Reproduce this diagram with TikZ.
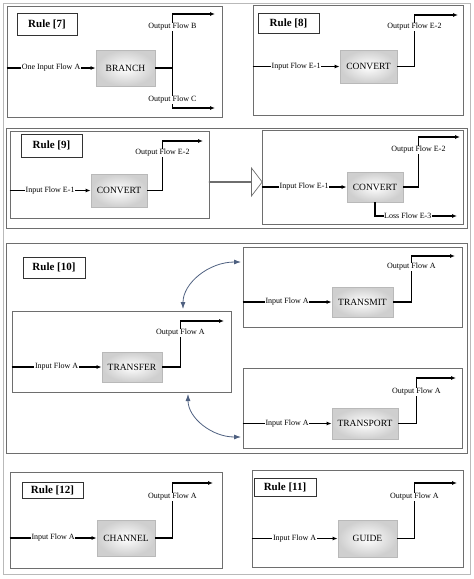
\documentclass[tikz,border=0pt]{standalone}
\usepackage{fontspec}
\setmainfont{Liberation Serif}
\usetikzlibrary{arrows.meta,fit,shapes.arrows}
\definecolor{slate}{RGB}{78,96,128}
\definecolor{frameGray}{RGB}{110,110,110}

\begin{document}
\begin{tikzpicture}[>={Latex[length=5pt,width=4pt]},x=1pt,y=-1pt,line width=.8pt]
\tikzstyle{frame}=[draw=frameGray,inner sep=0pt,line width=.9pt]
\tikzstyle{tag}=[draw=black!80,inner sep=0pt,line width=.9pt,font=\fontsize{11}{12}\selectfont\bfseries]
\tikzstyle{proc}=[draw=gray!55,inner color=white,outer color=gray!38,inner sep=0pt,font=\fontsize{9.5}{10}\selectfont]
\tikzstyle{flow}=[fill=white,inner sep=.6pt,font=\fontsize{8}{9}\selectfont]
\tikzstyle{flowline}=[->,line width=1.1pt]
\tikzstyle{swing}=[{Latex[length=7pt,width=5pt]}-{Latex[length=7pt,width=5pt]},draw=slate,line width=.8pt]

\useasboundingbox (0,0) rectangle (474,579);
\node[frame,draw=gray!55,line width=.7pt,fit={(3,3) (470,574)}] (page) {};

% Rule 7
\node[frame,fit={(7,6) (222,117)}] (r7) {};
\node[tag,minimum width=60pt,minimum height=22pt] (l7) at (47,24) {Rule [7]};
\node[proc,minimum width=59pt,minimum height=36pt] (branch) at (125.5,68) {BRANCH};
\coordinate (ob7) at (215,14);
\coordinate (oc7) at (215,108);
\draw[flowline] (r7.west |- branch) -- node[flow] (in7) {One Input Flow A} (branch);
\draw[flowline] (branch.east) -- ++(17,0) coordinate (k7) |- (ob7);
\draw[flowline] (k7) |- (oc7);
\node[flow] (outb7) at (k7 |- 0,27) {Output Flow B};
\node[flow] (outc7) at (k7 |- 0,100) {Output Flow C};

% Rule 8
\node[frame,fit={(253,5) (463,115)}] (r8) {};
\node[tag,minimum width=61pt,minimum height=20pt] (l8) at (288.5,23) {Rule [8]};
\node[proc,minimum width=57pt,minimum height=33pt] (conv8) at (368.5,66.5) {CONVERT};
\coordinate (o8) at (458,15);
\draw[flowline] (r8.west |- conv8) -- node[flow] (in8) {Input Flow E-1} (conv8);
\draw[flowline] (conv8.east) -- ++(17,0) coordinate (k8) |- (o8);
\node[flow] (out8) at (k8 |- 0,27) {Output Flow E-2};

% Rule 9
\node[frame,fit={(6,128) (467,228)}] (g9) {};
\node[frame,fit={(10,131) (209,218)}] (a9) {};
\node[frame,fit={(262,130) (463,224)}] (b9) {};
\node[tag,minimum width=61pt,minimum height=23pt] (l9) at (51.5,145.5) {Rule [9]};
\node[single arrow,draw=frameGray,fill=white,line width=.7pt,inner sep=0pt,
  minimum height=53pt,minimum width=28pt,single arrow head extend=9pt,
  single arrow tip angle=105] (shift9) at (235.5,182) {};
\node[proc,minimum width=56pt,minimum height=33pt] (conv9a) at (119,190.5) {CONVERT};
\coordinate (o9a) at (203,141);
\draw[flowline] (a9.west |- conv9a) -- node[flow] (in9a) {Input Flow E-1} (conv9a);
\draw[flowline] (conv9a.east) -- ++(15,0) coordinate (k9a) |- (o9a);
\node[flow] (out9a) at (k9a |- 0,153) {Output Flow E-2};
\node[proc,minimum width=56pt,minimum height=30pt] (conv9b) at (375,187) {CONVERT};
\coordinate (o9b) at (460,137);
\coordinate (ls9) at (457,216);
\draw[flowline] (b9.west |- conv9b) -- node[flow] (in9b) {Input Flow E-1} (conv9b);
\draw[flowline] (conv9b.east) -- ++(15,0) coordinate (k9b) |- (o9b);
\node[flow] (out9b) at (k9b |- 0,150) {Output Flow E-2};
\draw[flowline] (conv9b.south) |- node[flow,pos=.7] (loss9) {Loss Flow E-3} (ls9);

% Rule 10
\node[frame,fit={(6,243) (467,453)}] (g10) {};
\node[tag,minimum width=62pt,minimum height=21pt] (l10) at (54,267.5) {Rule [10]};
\node[frame,fit={(12,311) (231,392)}] (c10) {};
\node[frame,fit={(243,247) (462,327)}] (m10) {};
\node[frame,fit={(243,368) (462,448)}] (p10) {};
\node[proc,minimum width=60pt,minimum height=30pt] (transfer) at (132,367) {TRANSFER};
\node[proc,minimum width=61pt,minimum height=30pt] (transmit) at (362.5,302) {TRANSMIT};
\node[proc,minimum width=66pt,minimum height=31pt] (transport) at (365,423.5) {TRANSPORT};
\coordinate (o10) at (224,321);
\coordinate (om10) at (455,256);
\coordinate (op10) at (456,378);
\draw[flowline] (c10.west |- transfer) -- node[flow] (in10) {Input Flow A} (transfer);
\draw[flowline] (transfer.east) -- ++(18,0) coordinate (k10) |- (o10);
\node[flow] (out10) at (k10 |- 0,333) {Output Flow A};
\draw[flowline] (m10.west |- transmit) -- node[flow] (inm10) {Input Flow A} (transmit);
\draw[flowline] (transmit.east) -- ++(18,0) coordinate (km10) |- (om10);
\node[flow] (outm10) at (km10 |- 0,267) {Output Flow A};
\draw[flowline] (p10.west |- transport) -- node[flow] (inp10) {Input Flow A} (transport);
\draw[flowline] (transport.east) -- ++(18,0) coordinate (kp10) |- (op10);
\node[flow] (outp10) at (kp10 |- 0,392) {Output Flow A};
\coordinate (su1) at (183,309);
\coordinate (su2) at (241,262);
\coordinate (sd1) at (188,394);
\coordinate (sd2) at (241,437);
\draw[swing] (su1) .. controls (183,283) and (209,262) .. (su2);
\draw[swing] (sd1) .. controls (188,418) and (212,437) .. (sd2);

% Rule 12
\node[frame,fit={(10,472) (222,568)}] (r12) {};
\node[tag,minimum width=61pt,minimum height=16pt] (l12) at (52.5,490) {Rule [12]};
\node[proc,minimum width=58pt,minimum height=36pt] (channel) at (126,538) {CHANNEL};
\coordinate (o12) at (213,483);
\draw[flowline] (r12.west |- channel) -- node[flow] (in12) {Input Flow A} (channel);
\draw[flowline] (channel.east) -- ++(17,0) coordinate (k12) |- (o12);
\node[flow] (out12) at (k12 |- 0,497) {Output Flow A};

% Rule 11
\node[frame,fit={(252,470) (463,567)}] (r11) {};
\node[tag,minimum width=62pt,minimum height=18pt] (l11) at (285,487) {Rule [11]};
\node[proc,minimum width=59pt,minimum height=37pt] (guide) at (367.5,538.5) {GUIDE};
\coordinate (o11) at (457,483);
\draw[flowline] (r11.west |- guide) -- node[flow] (in11) {Input Flow A} (guide);
\draw[flowline] (guide.east) -- ++(17,0) coordinate (k11) |- (o11);
\node[flow] (out11) at (k11 |- 0,497) {Output Flow A};

\end{tikzpicture}
\end{document}
